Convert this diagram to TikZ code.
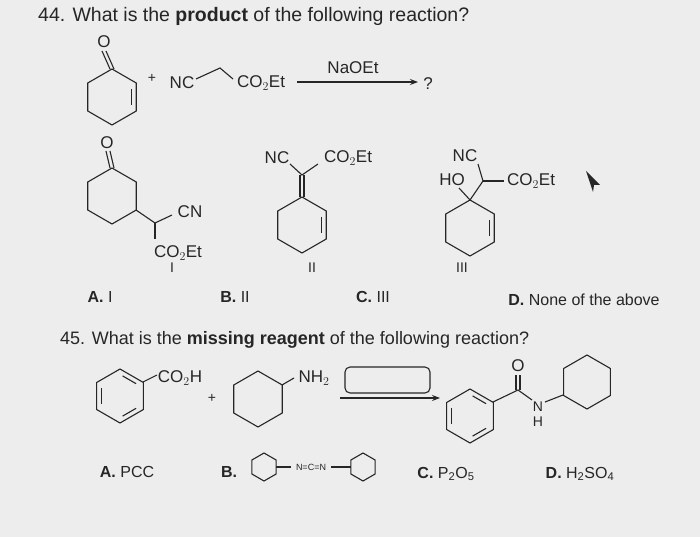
\documentclass[tikz,border=0pt]{standalone}
\usepackage{fontspec}
\setmainfont{Liberation Sans}
\usetikzlibrary{arrows.meta}
\newcommand\hexat[3]{\draw[bond] (#1,#2) +(90:#3) -- +(30:#3) -- +(-30:#3) -- +(-90:#3) -- +(-150:#3) -- +(150:#3) -- cycle;}
\newcommand\dblin[5]{\draw[bond,shorten <=3pt,shorten >=3pt] (#1,#2) +(#4:0.8*#3) -- +(#5:0.8*#3);}
\begin{document}
\begin{tikzpicture}[x=1pt,y=-1pt,
  bond/.style={line width=1.1pt,draw=black!85},
  txt/.style={font=\fontsize{19.5}{22}\selectfont,inner sep=0pt,anchor=west,text=black!85},
  lab/.style={font=\fontsize{17}{20}\selectfont,inner sep=0pt,text=black!85},
  ans/.style={font=\fontsize{16}{19}\selectfont,inner sep=0pt,text=black!85},
  sml/.style={font=\fontsize{14}{15}\selectfont,inner sep=0pt,text=black!85}]
\fill[black!7] (0,0) rectangle (700,537);
\useasboundingbox (0,0) rectangle (700,537);
% Q44
\node[txt] (q44) at (38,16) {44. What is the \textbf{product} of the following reaction?};
% cyclohexenone
\hexat{112}{97}{28}
\dblin{112}{97}{28}{-30}{30}
\draw[bond] (110,69) -- (102,51);
\draw[bond] (114,69) -- (106,51);
\node[lab] (o1) at (104,42) {O};
\node[sml] (plus1) at (152,78) {+};
\node[lab] (nc0) at (182,83) {NC};
\draw[bond] (196,79) -- (220,68) -- (233,79);
\node[lab] (co0) at (261,83) {CO$_2$Et};
\node[lab] (naoet) at (353,68) {NaOEt};
\draw[bond,-{Stealth[length=8pt]}] (297,82) -- (418,82);
\node[lab] (q) at (428,84) {?};
% I
\hexat{112}{196}{28}
\draw[bond] (110,168) -- (106,151);
\draw[bond] (114,168) -- (110,151);
\node[lab] (o2) at (107,143) {O};
\draw[bond] (136,210) -- (155,223) -- (172,215);
\draw[bond] (155,223) -- (155,239);
\node[lab] (cn1) at (190,212) {CN};
\node[lab] (co1) at (178,253) {CO$_2$Et};
\node[sml] (r1) at (172,268) {I};
% II
\node[lab] (nc2) at (277,158) {NC};
\node[lab] (co2) at (348,158) {CO$_2$Et};
\draw[bond] (290,164) -- (302,175) -- (318,164);
\draw[bond] (300,175) -- (300,197);
\draw[bond] (304,175) -- (304,197);
\hexat{302}{225}{28}
\dblin{302}{225}{28}{-30}{30}
\node[sml] (r2) at (312,268) {II};
% III
\node[lab] (nc3) at (465,156) {NC};
\node[lab] (ho3) at (452,180) {HO};
\draw[bond] (478,164) -- (483,181);
\draw[bond] (483,181) -- (504,181);
\draw[bond] (483,181) -- (470,200);
\draw[bond] (459,188) -- (470,200);
\node[lab] (co3) at (531,181) {CO$_2$Et};
\hexat{470}{228}{28}
\dblin{470}{228}{28}{-30}{30}
\fill[black!85] (586,171) -- (600,185) -- (594,185) -- (593,192) -- cycle;
\node[sml] (r3) at (462,268) {III};
% answers 44
\node[ans] (a1) at (100,297) {\textbf{A.} I};
\node[ans] (b1) at (235,297) {\textbf{B.} II};
\node[ans] (c1) at (373,297) {\textbf{C.} III};
\node[ans] (d1) at (584,300) {\textbf{D.} None of the above};
% Q45
\node[txt,font=\fontsize{18}{21}\selectfont] (q45) at (60,340) {45. What is the \textbf{missing reagent} of the following reaction?};
\hexat{120}{396}{27}
\dblin{120}{396}{27}{150}{-150}
\dblin{120}{396}{27}{-90}{-30}
\dblin{120}{396}{27}{30}{90}
\draw[bond] (143,382) -- (157,375);
\node[lab] (cooh) at (180,378) {CO$_2$H};
\node[sml] (plus2) at (212,398) {+};
\hexat{258}{399}{28}
\draw[bond] (282,385) -- (294,378);
\node[lab] (nh2) at (314,378) {NH$_2$};
\draw[bond,rounded corners=5pt] (345,367) rectangle (430,393);
\draw[bond,-{Stealth[length=8pt]}] (340,398) -- (440,398);
% product
\hexat{470}{416}{27}
\dblin{470}{416}{27}{150}{-150}
\dblin{470}{416}{27}{-90}{-30}
\dblin{470}{416}{27}{30}{90}
\draw[bond] (493,402) -- (518,390) -- (532,400);
\draw[bond] (516,390) -- (516,375);
\draw[bond] (520,390) -- (520,375);
\node[lab] (o3) at (518,366) {O};
\node[sml] (n4) at (538,407) {N};
\node[sml] (h4) at (538,422) {H};
\draw[bond] (545,402) -- (563,395);
\hexat{587}{382}{27}
% answers 45
\node[ans] (a2) at (127,472) {\textbf{A.} PCC};
\node[ans] (b2) at (229,472) {\textbf{B.}};
\hexat{264}{467}{14}
\node[font=\fontsize{9}{10}\selectfont,inner sep=0pt,text=black!85] (dcc) at (311,467) {N=C=N};
\draw[bond] (276,467) -- (291,467);
\draw[bond] (331,467) -- (351,467);
\hexat{363}{467}{14}
\node[ans] (c2) at (446,474) {\textbf{C.} P\textsubscript{2}O\textsubscript{5}};
\node[ans] (d2) at (580,474) {\textbf{D.} H\textsubscript{2}SO\textsubscript{4}};
\end{tikzpicture}
\end{document}
